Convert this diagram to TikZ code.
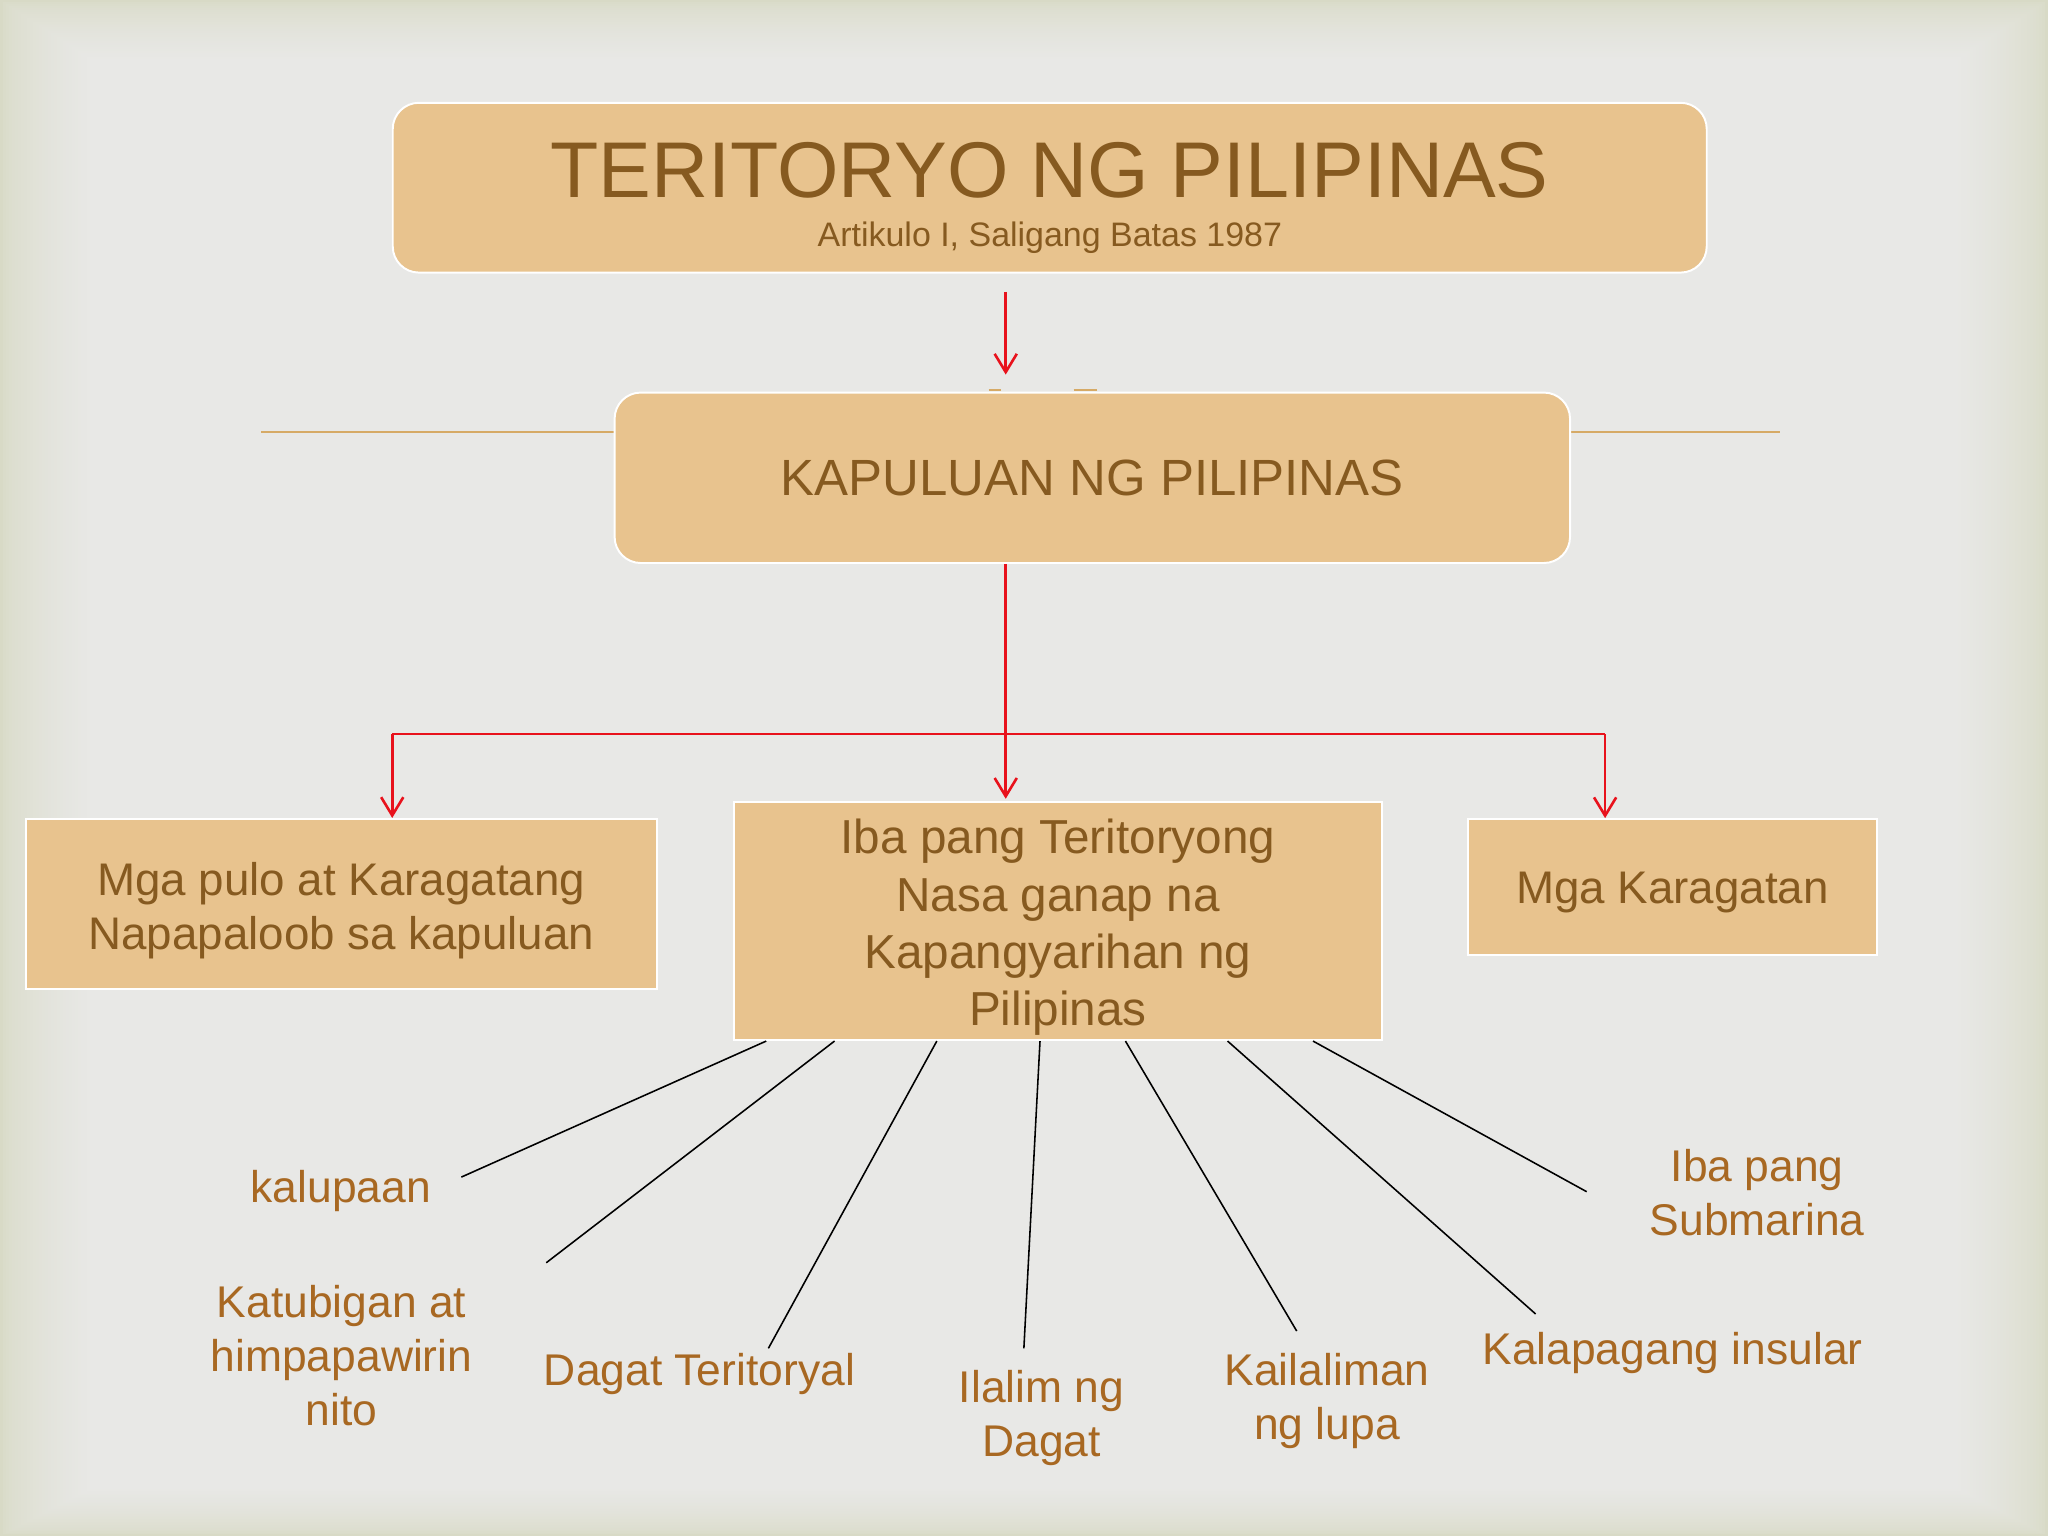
\documentclass[tikz,border=0pt]{standalone}
\usepackage{fontspec}
\setmainfont{Liberation Sans}
\usetikzlibrary{arrows.meta, positioning, calc}
\definecolor{colBox}{RGB}{232, 195, 142}
\definecolor{colTxt}{RGB}{134, 90, 32}
\definecolor{colLbl}{RGB}{168, 104, 34}
\definecolor{colArr}{RGB}{232, 18, 28}
\definecolor{colTan}{RGB}{214, 170, 102}
\definecolor{colBg}{RGB}{232, 232, 230}
\definecolor{colEdge}{RGB}{216, 218, 198}

\begin{document}
\begin{tikzpicture}[x=1pt, y=-1pt,
    tbox/.style={draw=white, line width=1.5pt, fill=colBox, inner sep=0pt, align=center, text=colTxt},
    rbox/.style={tbox, rounded corners=20pt},
    lbl/.style={text=colLbl, align=center, inner sep=0pt, font=\fontsize{34}{41.5}\selectfont},
    redln/.style={colArr, line width=2pt},
    redarr/.style={redln, -{Straight Barb[length=14pt,width=17pt]}},
    spoke/.style={black, line width=1.2pt}]
    \useasboundingbox (0,0) rectangle (1568,1176);
    % Latar
    \fill[colEdge] (0,0) rectangle (1568,1176);
    \foreach \i in {1,...,30} {
        \pgfmathtruncatemacro{\pct}{100*(\i/30)^0.6}
        \fill[colBg!\pct!colEdge] (\i*2.3, \i*1.5) rectangle (1568-\i*2.3, 1176-\i*1.2);
    }
    \draw[colTan, line width=1.5pt] (200,331) -- (470,331);
    \draw[colTan, line width=1.5pt] (1202,331) -- (1363,331);
    \draw[colTan, line width=1.5pt] (757,298.5) -- (766,298.5);
    \draw[colTan, line width=1.5pt] (822,298.5) -- (840,298.5);

    % Judul
    \node[rbox, minimum width=1006pt, minimum height=130pt] (title) at (803.7,143.7) {};
    \node[anchor=base, text=colTxt, font=\fontsize{60.5}{72}\selectfont] (titletxt) at (803.5,151) {TERITORYO NG PILIPINAS};
    \node[anchor=base, text=colTxt, font=\fontsize{26}{31}\selectfont] (subtitle) at (803.8,189) {Artikulo I, Saligang Batas 1987};

    \node[rbox, minimum width=731.5pt, minimum height=130.5pt, font=\fontsize{39}{47}\selectfont] (kap) at (836.3,365.8) {KAPULUAN NG PILIPINAS};

    % Tiga kotak
    \node[tbox, minimum width=483.5pt, minimum height=130.4pt, font=\fontsize{35}{41.3}\selectfont] (pulo) at (261.3,692.2) {\rule{0pt}{35.5pt}Mga pulo at Karagatang\\Napapaloob sa kapuluan};
    \node[tbox, minimum width=496.8pt, minimum height=182pt, font=\fontsize{36.5}{44}\selectfont] (iba) at (810,705.3) {\rule{0pt}{36pt}Iba pang Teritoryong\\Nasa ganap na\\Kapangyarihan ng\\Pilipinas};
    \node[tbox, minimum width=313.3pt, minimum height=104.1pt, text height=32pt, font=\fontsize{35}{42}\selectfont] (karag) at (1280.5,679.2) {Mga Karagatan};

    % Panah merah
    \coordinate (jm) at (770,562);
    \coordinate (jl) at (300.3,562);
    \coordinate (jr) at (1228.9,562);
    \draw[redarr, shorten <=14pt, shorten >=13pt] (title.south -| jm) -- (kap.north -| jm);
    \draw[redarr, shorten >=2pt] (kap.south -| jm) -- (iba.north -| jm);
    \draw[redln] (jl) -- (jr);
    \draw[redarr] (jl) -- (jl |- pulo.north);
    \draw[redarr] (jr) -- (jr |- karag.north);

    % Garis ke bagian
    \foreach \dx/\ex/\ey [count=\k] in {25.8/353.2/901.2, 78.1/418.2/966.8, 156.4/588.3/1032.3, 235.4/783.9/1032.3, 300.8/992.8/1019.1, 379/1175.7/1006, 444.4/1214.8/912.4} {
        \coordinate (sp\k) at (\ex,\ey);
        \draw[spoke] ([xshift=\dx pt]iba.south west) -- (sp\k);
    }

    \node[lbl, anchor=base] (kalup) at (261,921) {kalupaan};
    \node[lbl] (katub) at (261.5,1037.7) {Katubigan at\\himpapawirin\\nito};
    \node[lbl, anchor=base] (dagatter) at (535.5,1060.5) {Dagat Teritoryal};
    \node[lbl] (ilalim) at (797.5,1085.9) {Ilalim ng\\Dagat};
    \node[lbl] (kailal) at (1016,1072.9) {Kailaliman\\ng lupa};
    \node[lbl, anchor=base] (kalap) at (1280.5,1044.6) {Kalapagang insular};
    \node[lbl] (submar) at (1345.4,913.2) {Iba pang\\Submarina};
\end{tikzpicture}
\end{document}
